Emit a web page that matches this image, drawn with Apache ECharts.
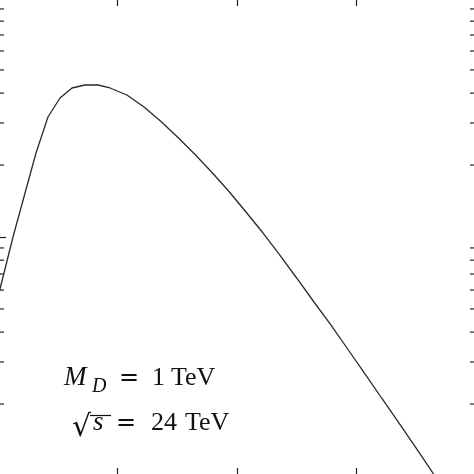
<!DOCTYPE html>
<html>
<head>
<meta charset="utf-8">
<script src="https://cdn.jsdelivr.net/npm/echarts@6/dist/echarts.min.js"></script>
<style>
html,body{margin:0;padding:0;background:#fff;}
#chart{width:474px;height:474px;}
</style>
</head>
<body>
<div id="chart"></div>
<script>
// Curve samples (x in axis units 0..4, y on log axis 0.1..10)
const curveX = [0, 0.1255, 0.318, 0.418, 0.519, 0.619, 0.728, 0.837, 0.937, 1.079, 1.222, 1.364, 1.506, 1.649, 1.791, 1.933, 2.075, 2.218, 2.360, 2.502, 2.644, 2.787, 2.929, 3.071, 3.213, 3.356, 3.498, 3.640, 3.699];
const curveY = [0.561, 1.0, 2.247, 3.178, 3.815, 4.202, 4.325, 4.325, 4.202, 3.928, 3.499, 3.043, 2.609, 2.214, 1.862, 1.550, 1.272, 1.039, 0.837, 0.6705, 0.5346, 0.4282, 0.3383, 0.2672, 0.2110, 0.1666, 0.1310, 0.1029, 0.0935];
// Axis ranges / ticks
const xMin = 0, xMax = 4, xInterval = 1;
const yMin = 0.1, yMax = 10;
const minorMultipliers = [2, 3, 4, 5, 6, 7, 8, 9];
const decades = [0.1, 1];
// Annotation texts
const line1 = ['M', 'D', '=', '1', 'TeV'];
const line2 = ['√', 's', '=', '24', 'TeV'];

const curveData = curveX.map((x, i) => [x, curveY[i]]);
const minorData = [];
decades.forEach(d => minorMultipliers.forEach(m => minorData.push([xMin, +(d * m).toPrecision(6)])));

const chart = echarts.init(document.getElementById('chart'), null, {renderer: 'canvas'});
const tickStyle = {color: '#222', width: 1.2};
const xAxisBase = {
  type: 'value', min: xMin, max: xMax, interval: xInterval,
  axisLine: {show: false},
  axisTick: {show: true, inside: true, length: 8, lineStyle: tickStyle},
  axisLabel: {show: false}, splitLine: {show: false}
};
const yAxisBase = {
  type: 'log', logBase: 10, min: yMin, max: yMax, interval: 1,
  axisLine: {show: false},
  axisTick: {show: true, inside: true, length: 8, lineStyle: tickStyle},
  axisLabel: {show: false}, splitLine: {show: false}
};
const serif = '"Liberation Serif", "DejaVu Serif", serif';
const dv = '"DejaVu Serif", serif';
function txt(t, x, baseline, size, family, italic) {
  return {
    type: 'text', silent: true,
    style: {
      text: t, x: x, y: baseline - 0.33 * size,
      fontFamily: family, fontSize: size, fontStyle: italic ? 'italic' : 'normal',
      fill: '#111', align: 'left', verticalAlign: 'middle'
    }
  };
}
chart.setOption({
  animation: false,
  backgroundColor: '#fff',
  grid: {left: -2, right: -2, top: -2, bottom: -2, containLabel: false, outerBoundsMode: 'none'},
  xAxis: [Object.assign({position: 'bottom'}, xAxisBase), Object.assign({position: 'top'}, xAxisBase)],
  yAxis: [Object.assign({position: 'left'}, yAxisBase), Object.assign({position: 'right'}, yAxisBase)],
  series: [
    {
      type: 'line', data: curveData, xAxisIndex: 0, yAxisIndex: 0,
      showSymbol: false, smooth: false,
      lineStyle: {color: '#2a2a2a', width: 1.3}
    },
    {
      type: 'custom', data: minorData, xAxisIndex: 0, yAxisIndex: 0, silent: true,
      renderItem: function (params, api) {
        const p = api.coord([api.value(0), api.value(1)]);
        const cs = params.coordSys;
        return {
          type: 'group',
          children: [
            {type: 'line', shape: {x1: cs.x, y1: p[1], x2: cs.x + 6, y2: p[1]}, style: {stroke: '#222', lineWidth: 1.2}},
            {type: 'line', shape: {x1: cs.x + cs.width - 6, y1: p[1], x2: cs.x + cs.width, y2: p[1]}, style: {stroke: '#222', lineWidth: 1.2}}
          ]
        };
      }
    }
  ],
  graphic: [
    txt(line1[0], 64, 387, 27, serif, true),
    txt(line1[1], 92, 393, 20, serif, true),
    txt(line1[2], 119, 387, 24, dv, false),
    txt(line1[3], 152, 387, 26, serif, false),
    txt(line1[4], 171, 387, 26, serif, false),
    txt(line2[0], 72, 438, 30, dv, false),
    txt(line2[1], 93, 432, 27, serif, true),
    txt(line2[2], 116, 432, 24, dv, false),
    txt(line2[3], 151, 432, 26, serif, false),
    txt(line2[4], 185, 432, 26, serif, false),
    {type: 'line', silent: true, shape: {x1: 90, y1: 415.5, x2: 111, y2: 415.5}, style: {stroke: '#111', lineWidth: 1.2}}
  ]
});
</script>
</body>
</html>
